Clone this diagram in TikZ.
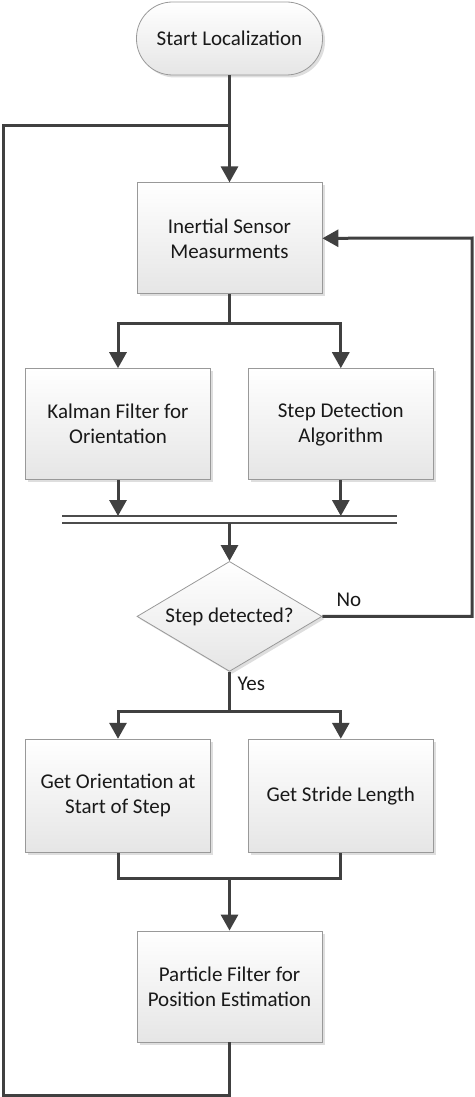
\documentclass[tikz,border=0pt]{standalone}
\usepackage{fontspec}
\setmainfont{Carlito}
\usetikzlibrary{shapes.geometric, arrows.meta, positioning, shadows}

\begin{document}
\begin{tikzpicture}[
    x=1pt, y=1pt,
    >={Triangle[length=16pt, width=17pt]},
    font=\fontsize{21}{25}\selectfont,
    line/.style={draw=black!75, line width=3pt},
    barline/.style={draw=black!70, line width=2.2pt},
    lbl/.style={inner sep=0pt, text=black!90},
    box/.style={draw=black!40, line width=0.8pt, top color=white, bottom color=black!10,
        drop shadow={shadow xshift=2.5pt, shadow yshift=-2.5pt, fill=black!13, opacity=1},
        align=center, text=black!90, inner sep=0pt, minimum width=185pt, minimum height=111pt},
    term/.style={box, rounded corners=36pt, minimum width=186pt, minimum height=73pt},
    decision/.style={box, diamond, aspect=1.68, minimum width=185pt, minimum height=110pt}
]
\useasboundingbox (0,0) rectangle (474,-1097);

\node[term] (start) at (229.5,-38.5) {Start Localization};
\node[box, below=107pt of start] (ins) {Inertial Sensor\\Measurments};
\node[box, below=74pt of ins, xshift=-111.5pt] (kal) {Kalman Filter for\\Orientation};
\node[box, right=37pt of kal] (stp) {Step Detection\\Algorithm};
\coordinate (bartop) at (229.5,-516);
\coordinate (barbot) at (229.5,-523);
\node[decision, below=38pt of barbot] (dec) {Step detected?};
\node[box, below=67pt of dec, xshift=-111.5pt, minimum height=113pt] (ori) {Get Orientation at\\Start of Step};
\node[box, right=37pt of ori, minimum height=113pt] (len) {Get Stride Length};
\node[box, below=78pt of ori, xshift=111.5pt] (pf) {Particle Filter for\\Position Estimation};

\node[lbl, above right=10pt and 14pt of dec.east] (no) {No};
\node[lbl, below right=5pt and 8pt of dec.south] (yes) {Yes};

\coordinate (lb) at (3,-1095);
\coordinate (lt) at (3,-126);
\coordinate (fb) at (472,-238);
\coordinate (join) at (229.5,-878);

% main line and loop back
\draw[line, ->] (start) -- (ins);
\draw[line] (pf.south) -- (pf |- lb) -- (lb) -- (lt) -- (lt -| start);

% split after the sensor
\draw[line, ->] (ins.south) -- ++(0,-29) -| (kal.north);
\draw[line, ->] (ins.south) -- ++(0,-29) -| (stp.north);

% synchronisation bar
\draw[line, ->] (kal.south) -- (kal.south |- bartop);
\draw[line, ->] (stp.south) -- (stp.south |- bartop);
\draw[barline] ([xshift=-167.5pt]bartop) -- ([xshift=167.5pt]bartop);
\draw[barline] ([xshift=-167.5pt]barbot) -- ([xshift=167.5pt]barbot);
\draw[line, ->] (barbot) -- (dec.north);

% no step: back to the sensor
\draw[line, ->] (dec.east) -| (fb) -- (ins.east);

% step found
\draw[line, ->] (dec.south) -- ++(0,-40) -| (ori.north);
\draw[line, ->] (dec.south) -- ++(0,-40) -| (len.north);
\draw[line] (ori.south) |- (join) -| (len.south);
\draw[line, ->] (join) -- (pf.north);
\end{tikzpicture}
\end{document}
